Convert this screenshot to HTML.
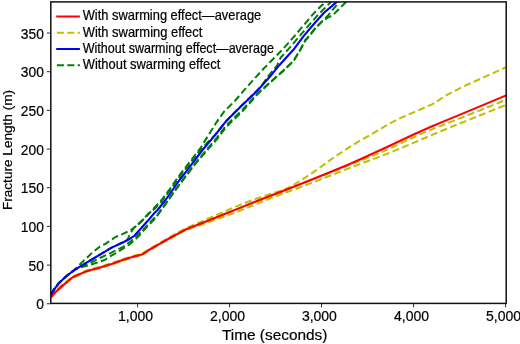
<!DOCTYPE html><html><head><meta charset="utf-8"><title>Fracture Length vs Time</title>
<style>html,body{margin:0;padding:0;background:#fff}svg{display:block}text{font-family:"Liberation Sans",Arial,Helvetica,sans-serif;fill:#000;stroke:#000;stroke-width:0.2px}</style></head><body>
<svg width="520" height="344" viewBox="0 0 520 344">
<rect width="520" height="344" fill="#fff"/>
<defs><clipPath id="c"><rect x="50.8" y="1.9" width="455.4" height="301.5"/></clipPath></defs>
<g clip-path="url(#c)" fill="none" stroke-linejoin="round">
<polyline points="50.80,297.20 55.00,292.20 59.50,287.00 62.40,284.50 72.60,276.50 87.20,270.30 100.00,266.80 111.60,263.10 123.30,259.00 134.90,255.50 141.90,253.80 148.80,249.20 160.00,242.80 168.10,238.00 185.00,228.60 204.10,220.39 218.60,214.12 233.10,207.80 240.00,204.96 254.50,199.38 269.10,194.32 283.60,189.82 290.90,186.62 301.00,180.40 315.00,171.10 319.50,167.92 334.10,157.28 348.60,147.60 363.10,138.85 370.00,135.06 378.70,130.07 387.40,124.73 399.10,118.59 413.60,112.33 432.50,104.12 435.00,102.63 446.60,95.02 464.10,86.10 485.90,76.36 506.20,67.10" stroke="#bfbf00" stroke-width="2" stroke-dasharray="7 3.4"/>
<polyline points="50.80,297.70 55.00,293.10 60.00,288.40 72.60,277.80 87.20,271.40 100.00,268.10 111.60,264.40 123.30,260.30 134.90,256.80 141.90,255.10 148.80,250.50 160.00,244.10 168.10,239.50 185.00,230.30 204.10,223.76 218.00,218.91 233.10,213.40 247.30,207.83 261.80,201.86 276.30,196.06 288.00,191.75 301.00,187.05 315.00,181.63 326.80,176.91 341.30,171.23 355.90,165.61 370.40,160.13 380.00,156.52 395.00,150.60 413.60,142.80 428.10,136.57 445.00,129.46 470.00,119.33 491.70,110.68 506.20,104.90" stroke="#bfbf00" stroke-width="2" stroke-dasharray="7 3.4"/>
<polyline points="50.80,297.60 55.00,293.00 60.00,288.30 72.60,277.70 87.20,271.30 100.00,268.00 111.60,264.30 123.30,260.20 134.90,256.70 141.90,255.00 148.80,250.40 160.00,244.00 168.10,239.40 185.00,230.20 204.10,222.58 225.90,213.91 240.00,208.28 254.50,202.44 269.10,196.66 283.60,191.05 298.10,185.35 315.00,178.61 334.10,171.04 348.60,165.36 366.00,158.62 380.00,152.84 400.00,143.64 420.90,133.95 435.40,127.94 445.00,124.23 478.60,110.90 493.10,105.06 506.20,99.80" stroke="#bfbf00" stroke-width="2" stroke-dasharray="7 3.4"/>
<polyline points="50.80,294.60 54.50,288.90 58.50,283.50 66.00,276.50 74.10,270.20 76.00,268.50 81.30,262.90 93.00,252.00 100.00,246.50 105.80,243.60 115.10,237.20 123.10,233.90 131.80,229.50 139.10,223.70 146.30,216.50 152.70,209.50 161.80,199.80 170.00,188.76 180.00,174.47 190.00,161.66 200.10,148.70 209.50,133.40 216.80,121.80 224.10,111.60 231.30,104.40 235.70,100.00 249.50,84.10 264.10,68.10 277.20,55.00 288.10,43.40 296.80,33.30 305.50,23.10 314.20,12.90 321.30,5.80 325.90,2.30 327.50,1.00" stroke="#007f00" stroke-width="2" stroke-dasharray="7 3.4"/>
<polyline points="50.80,294.60 54.50,288.90 58.50,283.50 66.00,276.50 74.10,270.20 88.60,261.40 100.00,254.60 111.60,247.60 123.30,242.20 127.00,240.35 131.00,232.50 133.50,228.00 136.30,226.00 142.00,220.50 148.00,213.90 155.00,208.50 161.00,202.30 170.00,190.36 180.00,176.07 190.00,163.26 200.00,150.01 208.00,142.01 215.00,134.95 220.00,128.56 230.00,117.00 240.00,107.06 250.00,97.46 262.00,85.23 268.00,76.42 272.00,71.71 277.00,65.61 280.80,57.50 291.00,46.30 298.30,37.60 307.00,27.40 316.20,16.80 324.80,8.10 330.60,2.30 332.00,1.00" stroke="#007f00" stroke-width="2" stroke-dasharray="7 3.4"/>
<polyline points="50.80,294.60 54.50,288.90 58.50,283.50 66.00,276.50 74.10,270.20 76.00,268.80 80.50,267.00 90.00,263.20 100.00,258.00 110.00,253.30 123.20,246.80 131.50,240.70 137.00,235.50 143.40,229.50 153.60,218.80 158.00,214.20 166.00,203.00 175.00,190.22 185.00,176.79 195.00,163.64 208.10,148.00 216.80,137.80 225.50,126.20 232.80,118.90 241.50,110.90 248.10,103.70 256.80,94.20 271.30,81.20 283.00,70.80 293.50,60.80 299.70,50.70 305.50,39.80 307.30,38.00 315.50,27.90 322.40,20.90 328.30,15.10 334.10,8.10 338.70,2.90 340.30,1.00" stroke="#007f00" stroke-width="2" stroke-dasharray="7 3.4"/>
<polyline points="50.80,294.60 54.50,288.90 58.50,283.50 66.00,276.50 74.10,270.20 76.00,268.80 80.50,267.30 92.00,264.30 104.60,260.00 110.00,256.50 118.70,251.50 130.30,243.80 138.40,236.50 143.40,230.50 155.00,218.60 166.00,203.60 175.00,190.82 185.00,177.39 195.00,164.24 208.10,149.20 216.80,139.40 225.50,127.80 232.80,120.50 241.50,112.30 248.10,104.90 256.80,95.00 271.30,81.60 283.00,71.20 293.50,61.20 299.70,51.10 305.50,40.20 307.30,38.40 315.50,28.30 322.40,21.30 328.30,17.40 332.90,15.10 338.70,9.30 345.70,2.30 347.00,1.00" stroke="#007f00" stroke-width="2" stroke-dasharray="7 3.4"/>
<polyline points="50.80,297.20 55.00,292.60 60.00,287.90 72.60,277.30 87.20,270.90 100.00,267.60 111.60,263.90 123.30,259.80 134.90,256.30 141.90,254.60 148.80,250.00 160.00,243.60 168.10,239.00 185.00,229.80 204.10,222.18 225.90,213.51 240.00,207.88 254.50,202.04 269.10,196.26 283.60,190.65 298.10,184.95 315.00,178.21 334.10,170.54 348.60,164.45 363.10,158.04 380.00,150.33 390.30,145.47 413.60,134.47 431.00,126.74 445.00,120.85 465.50,112.36 485.90,103.89 506.20,95.40" stroke="#ff0000" stroke-width="2.1"/>
<polyline points="50.80,294.60 54.50,288.90 58.50,283.50 66.00,276.50 74.10,270.20 88.60,261.40 100.00,254.60 111.60,247.60 123.30,242.20 129.10,239.30 134.00,236.00 140.70,228.80 147.80,220.80 153.00,214.60 157.60,210.00 165.50,200.00 172.60,190.00 179.50,180.00 186.50,171.20 202.50,150.00 215.30,134.90 225.50,121.80 238.60,108.70 248.10,99.60 258.10,89.90 269.80,76.80 279.30,65.20 288.80,54.80 293.90,49.20 303.60,36.20 313.40,24.50 324.30,12.50 335.60,2.90 337.60,1.00" stroke="#0000ff" stroke-width="2.1"/>
</g>
<rect x="50.8" y="1.9" width="455.4" height="301.5" fill="none" stroke="#111" stroke-width="1.5"/>
<line x1="137.6" y1="303.4" x2="137.6" y2="307.4" stroke="#1a1a1a" stroke-width="0.9"/>
<text x="135.5" y="320.8" font-size="14" text-anchor="middle">1,000</text>
<line x1="229.6" y1="303.4" x2="229.6" y2="307.4" stroke="#1a1a1a" stroke-width="0.9"/>
<text x="227.5" y="320.8" font-size="14" text-anchor="middle">2,000</text>
<line x1="321.5" y1="303.4" x2="321.5" y2="307.4" stroke="#1a1a1a" stroke-width="0.9"/>
<text x="319.4" y="320.8" font-size="14" text-anchor="middle">3,000</text>
<line x1="413.6" y1="303.4" x2="413.6" y2="307.4" stroke="#1a1a1a" stroke-width="0.9"/>
<text x="411.5" y="320.8" font-size="14" text-anchor="middle">4,000</text>
<line x1="505.6" y1="303.4" x2="505.6" y2="307.4" stroke="#1a1a1a" stroke-width="0.9"/>
<text x="503.5" y="320.8" font-size="14" text-anchor="middle">5,000</text>
<line x1="46.8" y1="303.75" x2="50.8" y2="303.75" stroke="#1a1a1a" stroke-width="0.9"/>
<text x="43.9" y="309.5" transform="rotate(0.02 43.9 303.8)" font-size="13.8" text-anchor="end">0</text>
<line x1="46.8" y1="265.1" x2="50.8" y2="265.1" stroke="#1a1a1a" stroke-width="0.9"/>
<text x="43.9" y="271.0" transform="rotate(0.02 43.9 265.1)" font-size="13.8" text-anchor="end">50</text>
<line x1="46.8" y1="226.4" x2="50.8" y2="226.4" stroke="#1a1a1a" stroke-width="0.9"/>
<text x="43.9" y="232.5" transform="rotate(0.02 43.9 226.4)" font-size="13.8" text-anchor="end">100</text>
<line x1="46.8" y1="187.7" x2="50.8" y2="187.7" stroke="#1a1a1a" stroke-width="0.9"/>
<text x="43.9" y="193.5" transform="rotate(0.02 43.9 187.7)" font-size="13.8" text-anchor="end">150</text>
<line x1="46.8" y1="149.05" x2="50.8" y2="149.05" stroke="#1a1a1a" stroke-width="0.9"/>
<text x="43.9" y="155.0" transform="rotate(0.02 43.9 149.1)" font-size="13.8" text-anchor="end">200</text>
<line x1="46.8" y1="110.4" x2="50.8" y2="110.4" stroke="#1a1a1a" stroke-width="0.9"/>
<text x="43.9" y="116.5" transform="rotate(0.02 43.9 110.4)" font-size="13.8" text-anchor="end">250</text>
<line x1="46.8" y1="71.7" x2="50.8" y2="71.7" stroke="#1a1a1a" stroke-width="0.9"/>
<text x="43.9" y="77.5" transform="rotate(0.02 43.9 71.7)" font-size="13.8" text-anchor="end">300</text>
<line x1="46.8" y1="33.0" x2="50.8" y2="33.0" stroke="#1a1a1a" stroke-width="0.9"/>
<text x="43.9" y="39.0" transform="rotate(0.02 43.9 33.0)" font-size="13.8" text-anchor="end">350</text>
<text x="274.7" y="339.7" font-size="15.4" text-anchor="middle">Time (seconds)</text>
<text transform="translate(11.6,150) rotate(-90) scale(1.08,1)" font-size="12.6" text-anchor="middle">Fracture Length (m)</text>
<line x1="56.2" y1="16.5" x2="79.9" y2="16.5" stroke="#ff0000" stroke-width="2"/>
<text transform="translate(82.7,20.40) scale(1,1.1)" font-size="12.9" textLength="178.5" lengthAdjust="spacingAndGlyphs">With swarming effect—average</text>
<line x1="56.9" y1="32.75" x2="79.9" y2="32.75" stroke="#bfbf00" stroke-width="2" stroke-dasharray="7 3.4"/>
<text transform="translate(82.7,36.65) scale(1,1.1)" font-size="12.9" textLength="119.6" lengthAdjust="spacingAndGlyphs">With swarming effect</text>
<line x1="56.2" y1="49" x2="79.9" y2="49" stroke="#0000ff" stroke-width="2"/>
<text transform="translate(82.7,52.90) scale(1,1.1)" font-size="12.9" textLength="191.2" lengthAdjust="spacingAndGlyphs">Without swarming effect—average</text>
<line x1="56.9" y1="65.25" x2="79.9" y2="65.25" stroke="#007f00" stroke-width="2" stroke-dasharray="7 3.4"/>
<text transform="translate(82.7,69.15) scale(1,1.1)" font-size="12.9" textLength="137.6" lengthAdjust="spacingAndGlyphs">Without swarming effect</text>
</svg></body></html>
